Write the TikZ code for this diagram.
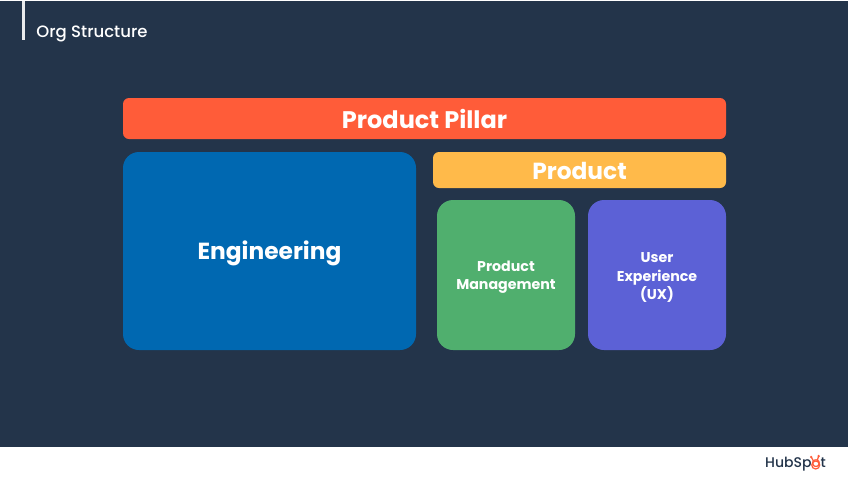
\documentclass[tikz,border=0pt]{standalone}
\usepackage{fontspec}
\setmainfont{Poppins}
\newfontfamily\titlefont{Poppins Medium}
\usepackage{tikz}
\definecolor{slate}{HTML}{23344A}
\definecolor{pillarred}{HTML}{FF5C39}
\definecolor{productyellow}{HTML}{FFBA4A}
\definecolor{engblue}{HTML}{0068B1}
\definecolor{pmgreen}{HTML}{50AF6E}
\definecolor{uxviolet}{HTML}{5C61D6}
\newcommand{\dropline}[1]{\rule{0pt}{#1}}
\newlength{\hubwidth}
\AtBeginDocument{\settowidth{\hubwidth}{\fontsize{14}{18}\titlefont HubSp}}
\tikzstyle{box} = [rectangle, text centered, inner sep=0pt, text=white, align=center]
\tikzstyle{bar} = [box, rounded corners=6pt]
\tikzstyle{team} = [box, rounded corners=16pt]
\tikzstyle{bigtext} = [font=\fontsize{23.3}{27}\selectfont\bfseries]
\tikzstyle{smalltext} = [font=\fontsize{14.2}{18.5}\selectfont\bfseries]
\tikzstyle{spoke} = [pillarred, line width=1.2pt]

\begin{document}
\begin{tikzpicture}[x=1pt, y=-1pt]
\useasboundingbox (0,0) rectangle (850,480);

\fill [white] (0,0) rectangle (850,480);
\fill [slate] (0,1) rectangle (848,447);
\fill [white!90!slate] (22,1) rectangle (24.5,40);

\node (title) at (92,31) [text=white, font=\fontsize{16.5}{18}\titlefont] {\dropline{17pt}Org Structure};

\node (pillar) at (424.5,118.5) [bar, minimum width=603pt, minimum height=41pt, fill=pillarred, font=\fontsize{24}{27}\selectfont\bfseries] {\dropline{21pt}Product Pillar};
\node (eng) at (269.5,251) [team, minimum width=293pt, minimum height=198pt, fill=engblue, bigtext] {\dropline{23pt}Engineering};
\node (prod) at (579.5,170) [bar, minimum width=293pt, minimum height=36pt, fill=productyellow, bigtext] {\dropline{20pt}Product};
\node (pm) at (506,275) [team, minimum width=138pt, minimum height=150pt, fill=pmgreen, smalltext] {\dropline{15pt}Product\\Management};
\node (ux) at (657,275) [team, minimum width=138pt, minimum height=150pt, fill=uxviolet, smalltext] {\dropline{15pt}User\\Experience\\(UX)};

\node (logo) [anchor=west, inner sep=0pt, text=slate, font=\fontsize{14}{18}\titlefont] at (765,464) {HubSp\textcolor{pillarred}{o}t};
\node (hub) at ([xshift=\hubwidth+4.3pt, yshift=-1pt]logo.west) [circle, minimum size=8pt, inner sep=0pt, draw=pillarred, line width=1.2pt] {};
\coordinate (tipa) at ([xshift=-4.5pt, yshift=8pt]hub.center);
\coordinate (tipb) at ([xshift=3pt, yshift=9pt]hub.center);
\draw [spoke] (hub) -- (tipa);
\draw [spoke] (hub) -- (tipb);
\fill [pillarred] (tipa) circle (1.3pt) (tipb) circle (1.3pt);

\end{tikzpicture}
\end{document}
